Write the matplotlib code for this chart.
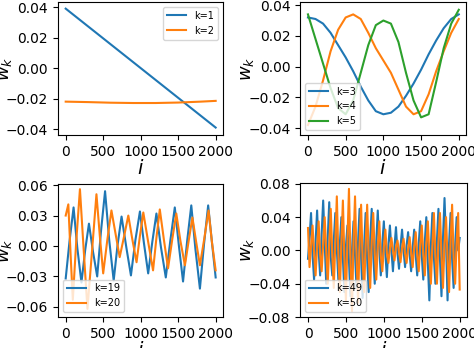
import numpy as np
import matplotlib
matplotlib.use("Agg")
import matplotlib.pyplot as plt

# ---- data ----
# panel 1
i_k1 = [0, 500, 1000, 1500, 2000]
w_k1 = [0.039, 0.0195, 0.0, -0.0195, -0.039]
i_k2 = [0, 300, 600, 900, 1200, 1500, 1800, 2000]
w_k2 = [-0.0220, -0.0223, -0.0227, -0.0229, -0.0229, -0.0226, -0.0220, -0.0215]

# panel 2
i_p2 = [0, 100, 200, 300, 400, 500, 600, 700, 800, 900, 1000,
        1100, 1200, 1300, 1400, 1500, 1600, 1700, 1800, 1900, 2000]
w_k3 = [0.032, 0.031, 0.028, 0.022, 0.014, 0.006, -0.003, -0.013, -0.022, -0.029, -0.031,
        -0.030, -0.026, -0.019, -0.011, -0.002, 0.008, 0.017, 0.025, 0.031, 0.034]
w_k4 = [-0.038, -0.026, -0.009, 0.010, 0.024, 0.032, 0.034, 0.031, 0.022, 0.012, 0.004,
        -0.004, -0.015, -0.026, -0.031, -0.029, -0.018, -0.003, 0.010, 0.022, 0.031]
w_k5 = [0.034, 0.018, 0.002, -0.014, -0.027, -0.031, -0.022, -0.004, 0.014, 0.027, 0.030,
        0.028, 0.016, -0.004, -0.022, -0.033, -0.031, -0.010, 0.012, 0.028, 0.037]

# panel 3
i_k19 = [0, 50, 105, 155, 210, 260, 310, 365, 420, 470, 525, 580, 640,
         690, 745, 810, 870, 930, 990, 1045, 1100, 1155, 1210, 1270, 1335,
         1395, 1455, 1510, 1565, 1620, 1675, 1730, 1790, 1845, 1900, 1950, 2000]
w_k19 = [-0.032, 0.004, 0.038, -0.002, -0.036, -0.004, 0.022, -0.006, -0.030, 0.014,
         0.054, 0.006, -0.034, 0.000, 0.029, -0.002, -0.029, 0.006, 0.034, 0.002,
         -0.027, 0.004, 0.032, -0.001, -0.031, 0.005, 0.038, 0.000, -0.035, 0.005,
         0.040, -0.003, -0.042, 0.002, 0.040, 0.004, -0.031]
i_k20 = [0, 35, 65, 95, 140, 190, 240, 290, 350, 410, 455, 500, 555, 610,
         665, 720, 780, 835, 890, 945, 990, 1035, 1100, 1165, 1210, 1255, 1310,
         1365, 1420, 1475, 1530, 1590, 1640, 1690, 1740, 1790, 1850, 1905, 1950, 2000]
w_k20 = [0.030, 0.041, -0.008, -0.053, 0.004, 0.056, -0.004, -0.062, -0.006, 0.051,
         0.010, -0.027, 0.006, 0.035, 0.012, -0.011, 0.010, 0.030, 0.006, -0.016,
         0.010, 0.033, 0.004, -0.024, 0.008, 0.036, 0.006, -0.022, 0.006, 0.032,
         0.005, -0.019, 0.005, 0.028, 0.004, -0.019, 0.008, 0.035, 0.004, -0.024]

# panel 4 (one value every 20 steps of i)
w_k49 = [-0.010, 0.015, 0.045, -0.005, -0.035, 0.010, 0.048, 0.000, -0.030, 0.020,
         0.060, 0.010, -0.040, 0.015, 0.058, -0.008, -0.030, 0.012, 0.045, 0.002,
         -0.035, 0.008, 0.040, -0.010, -0.050, 0.005, 0.030, -0.012, -0.055, 0.000,
         0.035, -0.005, -0.045, 0.010, 0.050, -0.008, -0.057, 0.005, 0.045, -0.010,
         -0.050, 0.012, 0.050, -0.005, -0.040, 0.010, 0.048, 0.002, -0.030, 0.008,
         0.035, -0.004, -0.032, 0.006, 0.030, 0.000, -0.025, 0.004, 0.028, -0.003,
         -0.022, 0.005, 0.025, 0.000, -0.020, 0.006, 0.022, -0.004, -0.025, 0.003,
         0.025, -0.005, -0.030, 0.008, 0.035, -0.006, -0.035, 0.010, 0.040, -0.015,
         -0.060, 0.005, 0.045, -0.008, -0.040, 0.012, 0.050, -0.010, -0.055, 0.015,
         0.063, 0.010, -0.060, 0.008, 0.045, -0.010, -0.045, 0.006, 0.040, 0.000,
         0.015]
w_k50 = [0.027, -0.020, 0.005, 0.030, -0.002, -0.030, 0.004, 0.035, -0.005, -0.025,
         0.008, 0.040, 0.000, -0.040, 0.006, 0.050, -0.004, -0.045, 0.010, 0.065,
         -0.005, -0.050, 0.008, 0.060, -0.010, -0.060, 0.012, 0.074, -0.008, -0.073,
         0.010, 0.065, -0.006, -0.063, 0.008, 0.055, -0.010, -0.050, 0.006, 0.055,
         -0.005, -0.045, 0.010, 0.045, -0.004, -0.035, 0.005, 0.035, -0.006, -0.025,
         0.004, 0.025, -0.003, -0.015, 0.002, 0.015, 0.000, -0.012, 0.004, 0.012,
         -0.002, -0.014, 0.003, 0.014, -0.004, -0.015, 0.002, 0.016, -0.003, -0.020,
         0.004, 0.022, -0.005, -0.025, 0.006, 0.030, -0.004, -0.030, 0.008, 0.035,
         -0.006, -0.040, 0.005, 0.045, -0.008, -0.040, 0.010, 0.045, -0.005, -0.045,
         0.008, 0.040, -0.010, -0.050, 0.010, 0.055, -0.008, -0.040, 0.010, 0.045,
         -0.047]
i_p4 = np.arange(0, 2001, 20)

fig = plt.figure(figsize=(4.74, 3.48), dpi=100)
ax1 = fig.add_axes([0.122, 0.612, 0.348, 0.382])
ax2 = fig.add_axes([0.633, 0.612, 0.350, 0.382])
ax3 = fig.add_axes([0.122, 0.089, 0.348, 0.382])
ax4 = fig.add_axes([0.633, 0.089, 0.352, 0.385])

lw = 1.5
ax1.plot(i_k1, w_k1, lw=lw, label='k=1')
ax1.plot(i_k2, w_k2, lw=lw, label='k=2')
ax1.set_ylim(-0.0439, 0.0433)
ax1.set_yticks([-0.04, -0.02, 0.0, 0.02, 0.04])
ax1.legend(loc='upper right', fontsize=7)

ax2.plot(i_p2, w_k3, lw=lw, label='k=3')
ax2.plot(i_p2, w_k4, lw=lw, label='k=4')
ax2.plot(i_p2, w_k5, lw=lw, label='k=5')
ax2.set_ylim(-0.0445, 0.042)
ax2.set_yticks([-0.04, -0.02, 0.0, 0.02, 0.04])
ax2.legend(loc='lower left', fontsize=7)

ax3.plot(i_k19, w_k19, lw=lw, label='k=19')
ax3.plot(i_k20, w_k20, lw=lw, label='k=20')
ax3.set_ylim(-0.070, 0.061)
ax3.set_yticks([-0.06, -0.03, 0.0, 0.03, 0.06])
ax3.legend(loc='lower left', fontsize=7)

ax4.plot(i_p4, w_k49, lw=lw, label='k=49')
ax4.plot(i_p4, w_k50, lw=lw, label='k=50')
ax4.set_ylim(-0.080, 0.081)
ax4.set_yticks([-0.08, -0.04, 0.0, 0.04, 0.08])
ax4.legend(loc='lower left', fontsize=7)

for ax in (ax1, ax2, ax3, ax4):
    ax.set_xlim(-105, 2095)
    ax.set_xticks([0, 500, 1000, 1500, 2000])
    ax.tick_params(labelsize=10)
    ax.set_xlabel('$i$', fontsize=14, labelpad=0)
    ax.set_ylabel('$w_k$', fontsize=13)
    ax.yaxis.set_label_coords(-0.265, 0.5)

fig.savefig('out.png', dpi=100)
